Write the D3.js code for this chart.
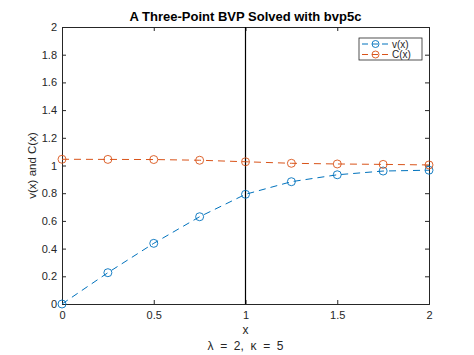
<!DOCTYPE html>
<html><head><meta charset="utf-8">
<script src="https://cdn.jsdelivr.net/npm/d3@7"></script>
<style>body{margin:0;background:#fff}svg{display:block}text{font-family:"Liberation Sans",Arial,sans-serif}</style>
</head><body><svg id="c" width="474" height="355"></svg>
<script>
const xs = [0, 0.25, 0.5, 0.75, 1.0, 1.25, 1.5, 1.75, 2.0];
const vVals = [0, 0.226, 0.438, 0.630, 0.792, 0.883, 0.933, 0.960, 0.966];
const cVals = [1.045, 1.044, 1.043, 1.038, 1.027, 1.016, 1.011, 1.008, 1.004];
const xTicks = [0, 0.5, 1, 1.5, 2];
const yTicks = [0, 0.2, 0.4, 0.6, 0.8, 1, 1.2, 1.4, 1.6, 1.8, 2];
const seriesNames = ["v(x)", "C(x)"];
const colors = ["#0072BD", "#D95319"];

const svg = d3.select("#c");
const L = 62, R = 429, T = 27, B = 304;
const x = d3.scaleLinear().domain([0, 2]).range([L, R]);
const y = d3.scaleLinear().domain([0, 2]).range([B, T]);

const fmt = d => String(d);
const gx = svg.append("g").attr("transform", `translate(0,${B})`)
  .call(d3.axisBottom(x).tickValues(xTicks).tickFormat(fmt).tickSize(-4).tickPadding(7));
const gxt = svg.append("g").attr("transform", `translate(0,${T})`)
  .call(d3.axisTop(x).tickValues(xTicks).tickFormat("").tickSize(-4));
const gy = svg.append("g").attr("transform", `translate(${L},0)`)
  .call(d3.axisLeft(y).tickValues(yTicks).tickFormat(fmt).tickSize(-4).tickPadding(5));
const gyr = svg.append("g").attr("transform", `translate(${R},0)`)
  .call(d3.axisRight(y).tickValues(yTicks).tickFormat("").tickSize(-4));
[gx, gxt, gy, gyr].forEach(g => {
  g.select(".domain").attr("stroke", "#262626").attr("stroke-width", 1);
  g.selectAll(".tick line").attr("stroke", "#262626");
  g.selectAll(".tick text").attr("fill", "#262626").style("font-size", "11px").style("font-family", "Liberation Sans, Arial, sans-serif");
});

svg.append("line").attr("x1", x(1)).attr("x2", x(1)).attr("y1", y(0)).attr("y2", y(2))
  .attr("stroke", "#000").attr("stroke-width", 1.2);

const line = d3.line().x((d, i) => x(xs[i])).y(d => y(d));
[vVals, cVals].forEach((vals, k) => {
  svg.append("path").datum(vals).attr("d", line).attr("fill", "none")
    .attr("stroke", colors[k]).attr("stroke-width", 1).attr("stroke-dasharray", "7,5");
  svg.selectAll(null).data(vals).enter().append("circle")
    .attr("cx", (d, i) => x(xs[i])).attr("cy", d => y(d)).attr("r", 4)
    .attr("fill", "none").attr("stroke", colors[k]).attr("stroke-width", 0.9);
});

svg.append("text").attr("x", (L + R) / 2).attr("y", 21).attr("text-anchor", "middle")
  .style("font-size", "13px").style("font-weight", "bold").attr("fill", "#000")
  .text("A Three-Point BVP Solved with bvp5c");
svg.append("text").attr("x", (L + R) / 2).attr("y", 334).attr("text-anchor", "middle")
  .style("font-size", "12px").attr("fill", "#262626").text("x");
svg.append("text").attr("x", (L + R) / 2).attr("y", 350).attr("text-anchor", "middle")
  .style("font-size", "12px").attr("fill", "#262626").style("white-space", "pre")
  .text("\u03BB  =  2,  \u03BA  =  5");
svg.append("text").attr("transform", `translate(36,${(T + B) / 2}) rotate(-90)`)
  .attr("text-anchor", "middle").style("font-size", "11.5px").attr("fill", "#262626")
  .text("v(x) and C(x)");

const lg = svg.append("g").attr("transform", "translate(359,38)");
lg.append("rect").attr("width", 63).attr("height", 22).attr("fill", "#fff")
  .attr("stroke", "#262626").attr("stroke-width", 0.8);
seriesNames.forEach((n, k) => {
  const yy = 6 + k * 10.5;
  lg.append("line").attr("x1", 3).attr("x2", 30).attr("y1", yy).attr("y2", yy)
    .attr("stroke", colors[k]).attr("stroke-width", 1).attr("stroke-dasharray", "6,4");
  lg.append("circle").attr("cx", 16.5).attr("cy", yy).attr("r", 3.5).attr("fill", "none")
    .attr("stroke", colors[k]).attr("stroke-width", 0.9);
  lg.append("text").attr("x", 33).attr("y", yy + 3.5).style("font-size", "10px")
    .attr("fill", "#262626").text(n);
});
</script></body></html>
